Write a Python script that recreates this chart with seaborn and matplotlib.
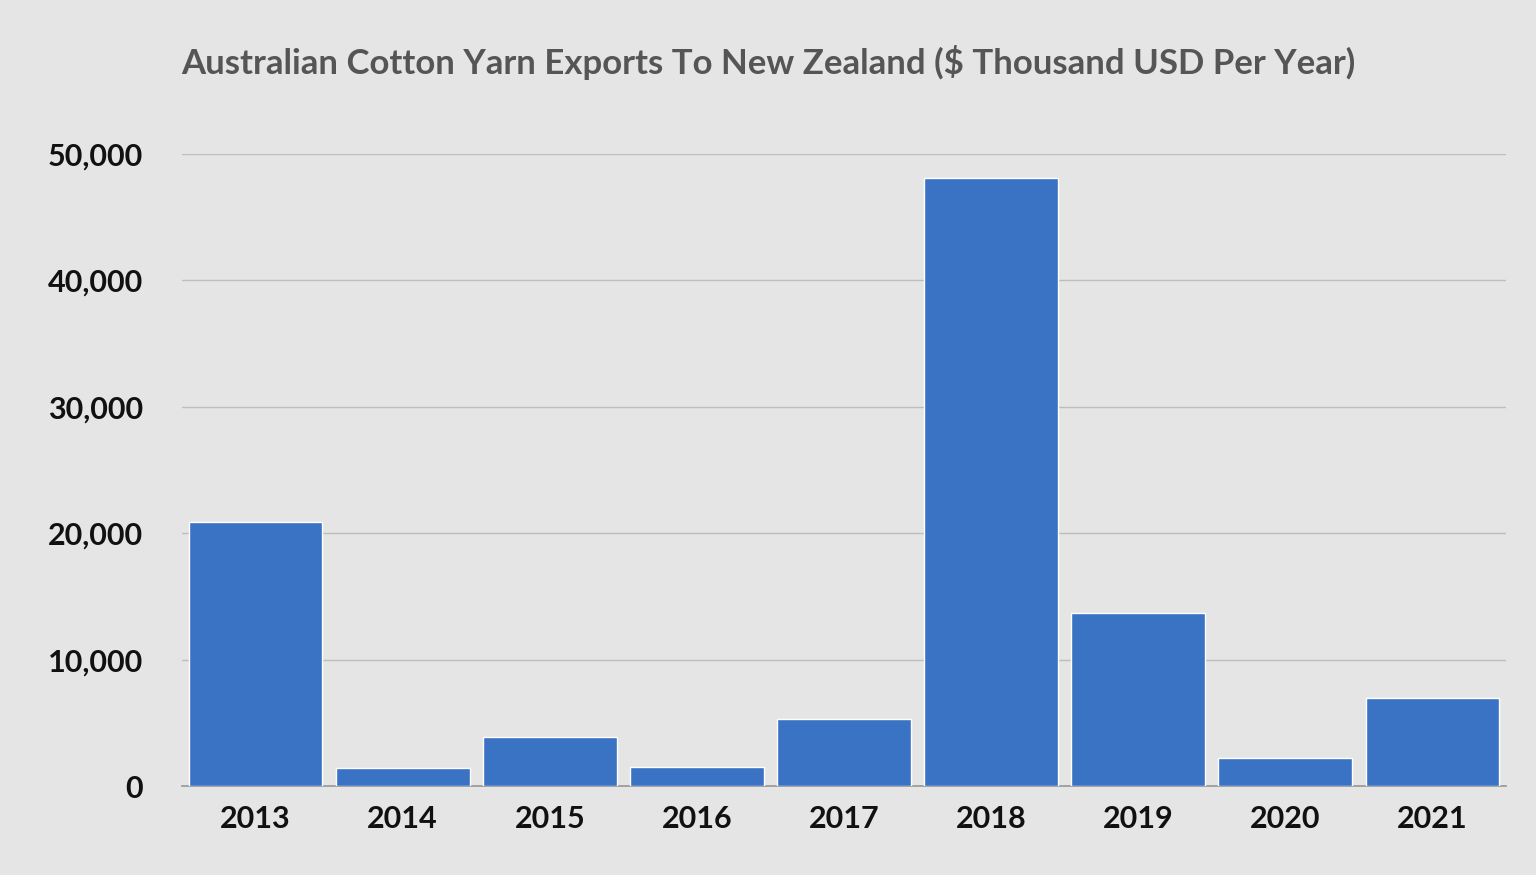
import matplotlib
matplotlib.use("Agg")
import matplotlib.pyplot as plt
import seaborn as sns
import pandas as pd
from matplotlib.ticker import FuncFormatter

years = ["2013", "2014", "2015", "2016", "2017", "2018", "2019", "2020", "2021"]
values = [20900, 1400, 3900, 1500, 5300, 48100, 13700, 2200, 7000]
yticks = [0, 10000, 20000, 30000, 40000, 50000]

bg = "#e6e5e5"
sns.set_theme(style="white")
plt.rcParams['font.family'] = ['Lato', 'DejaVu Sans']

fig = plt.figure(figsize=(15.36, 8.75), dpi=100, facecolor=bg)
ax = fig.add_axes([182/1536, 1-786/875, (1506-182)/1536, (786-154)/875])
ax.set_facecolor(bg)
df = pd.DataFrame({"year": years, "value": values})
sns.barplot(data=df, x="year", y="value", color="#3a72c4", saturation=1, width=0.91, ax=ax, zorder=3)
ax.set_xlim(-0.5, 8.5)
ax.set_ylim(0, 50000)
ax.set_yticks(yticks)
ax.yaxis.set_major_formatter(FuncFormatter(lambda v, p: f"{int(v):,}"))
ax.grid(axis="y", color="#bdbdbd", linewidth=1, zorder=0)
for s in ["top", "right", "left"]:
    ax.spines[s].set_visible(False)
ax.spines["bottom"].set_color("#999999")
ax.set_xlabel("")
ax.set_ylabel("")
ax.tick_params(axis="y", labelsize=22, length=0, pad=28, labelcolor="#111111")
ax.tick_params(axis="x", labelsize=22, length=0, pad=14, labelcolor="#111111")
for lab in ax.get_xticklabels() + ax.get_yticklabels():
    lab.set_fontweight("bold")
fig.text(0.5, 1-63/875, "Australian Cotton Yarn Exports To New Zealand ($ Thousand USD Per Year)",
         ha="center", va="center", fontsize=25, fontweight="bold", color="#555555")
fig.savefig("out.png", dpi=100, facecolor=bg)
